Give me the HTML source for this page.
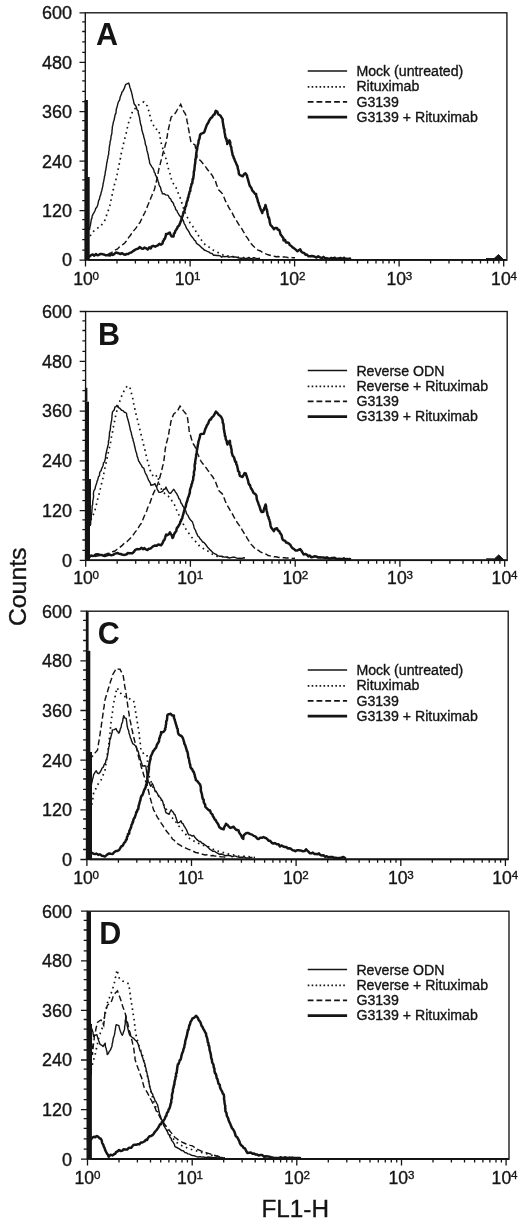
<!DOCTYPE html>
<html lang="en"><head><meta charset="utf-8"><title>Figure</title>
<style>html,body{margin:0;padding:0;background:#fff}svg{display:block}</style>
</head><body>
<svg width="520" height="1224" viewBox="0 0 520 1224" font-family="'Liberation Sans', Arial, Helvetica, sans-serif" fill="#141414" stroke="#141414" stroke-width="0.35">
<rect x="0" y="0" width="520" height="1224" fill="#fff" stroke="none"/>
<g>
<rect x="85.3" y="12.8" width="421.6" height="247.3" fill="none" stroke="#141414" stroke-width="1.35"/>
<path d="M88.3 259.9 H506.9" stroke="#141414" stroke-width="1.9" fill="none"/>
<text x="72" y="266.4" font-size="18" text-anchor="end">0</text>
<text x="72" y="216.9" font-size="18" text-anchor="end">120</text>
<text x="72" y="167.5" font-size="18" text-anchor="end">240</text>
<text x="72" y="118.0" font-size="18" text-anchor="end">360</text>
<text x="72" y="68.6" font-size="18" text-anchor="end">480</text>
<text x="72" y="19.1" font-size="18" text-anchor="end">600</text>
<path d="M79.5 260.1 H85.3 M82.2 250.1 H85.3 M82.2 239.7 H85.3 M82.2 229.3 H85.3 M82.2 219.6 H85.3 M79.5 210.6 H85.3 M82.2 200.6 H85.3 M82.2 190.2 H85.3 M82.2 179.8 H85.3 M82.2 170.1 H85.3 M79.5 161.2 H85.3 M82.2 151.2 H85.3 M82.2 140.8 H85.3 M82.2 130.4 H85.3 M82.2 120.7 H85.3 M79.5 111.7 H85.3 M82.2 101.7 H85.3 M82.2 91.3 H85.3 M82.2 80.9 H85.3 M82.2 71.2 H85.3 M79.5 62.3 H85.3 M82.2 52.3 H85.3 M82.2 41.9 H85.3 M82.2 31.5 H85.3 M82.2 21.8 H85.3 M79.5 12.8 H85.3 M85.5 260.1 V266.5 M117.0 260.1 V263.4 M135.4 260.1 V263.4 M148.4 260.1 V263.4 M158.6 260.1 V263.4 M166.9 260.1 V263.4 M173.9 260.1 V263.4 M179.9 260.1 V263.4 M185.3 260.1 V263.4 M190.1 260.1 V266.5 M221.5 260.1 V263.4 M239.9 260.1 V263.4 M253.0 260.1 V263.4 M263.1 260.1 V263.4 M271.4 260.1 V263.4 M278.4 260.1 V263.4 M284.5 260.1 V263.4 M289.8 260.1 V263.4 M294.6 260.1 V266.5 M326.1 260.1 V263.4 M344.5 260.1 V263.4 M357.5 260.1 V263.4 M367.7 260.1 V263.4 M376.0 260.1 V263.4 M383.0 260.1 V263.4 M389.0 260.1 V263.4 M394.4 260.1 V263.4 M399.1 260.1 V266.5 M430.6 260.1 V263.4 M449.0 260.1 V263.4 M462.1 260.1 V263.4 M472.2 260.1 V263.4 M480.5 260.1 V263.4 M487.5 260.1 V263.4 M493.6 260.1 V263.4 M498.9 260.1 V263.4 M503.7 260.1 V266.5" stroke="#141414" stroke-width="1.3" fill="none"/>
<text x="73.2" y="285.2" font-size="17.6">10<tspan font-size="11.6" dy="-5.0" dx="-0.2">0</tspan></text>
<text x="174.7" y="285.2" font-size="17.6">10<tspan font-size="11.6" dy="-5.0" dx="-0.2">1</tspan></text>
<text x="279.5" y="285.2" font-size="17.6">10<tspan font-size="11.6" dy="-5.0" dx="-0.2">2</tspan></text>
<text x="386.4" y="285.2" font-size="17.6">10<tspan font-size="11.6" dy="-5.0" dx="-0.2">3</tspan></text>
<text x="491.1" y="285.2" font-size="17.6">10<tspan font-size="11.6" dy="-5.0" dx="-0.2">4</tspan></text>
<text x="96.0" y="45.0" font-size="30.5" font-weight="bold" stroke="none">A</text>
<path d="M307.7 71.1 H347.1" stroke="#141414" stroke-width="1.5" fill="none"/>
<path d="M307.7 86.8 H347.1" stroke="#141414" stroke-width="1.7" stroke-dasharray="1.6 2.35" fill="none"/>
<path d="M307.7 101.8 H347.1" stroke="#141414" stroke-width="1.7" stroke-dasharray="5.8 3" fill="none"/>
<path d="M307.7 117.2 H347.1" stroke="#141414" stroke-width="2.7" fill="none"/>
<text x="356.4" y="76.0" font-size="14.15">Mock (untreated)</text>
<text x="356.4" y="91.2" font-size="14.15">Rituximab</text>
<text x="356.4" y="106.5" font-size="14.15">G3139</text>
<text x="356.4" y="121.8" font-size="14.15">G3139 + Rituximab</text>
<path d="M89.5 230.0 L89.7 228.1 L90.0 226.9 L90.4 225.1 L90.8 222.7 L91.1 221.0 L91.3 219.4 L92.0 218.2 L92.1 216.1 L92.7 215.2 L93.3 213.6 L94.0 212.7 L94.9 211.0 L95.7 208.5 L96.8 207.2 L97.5 205.6 L97.9 204.5 L98.2 202.7 L98.7 200.3 L99.3 199.5 L99.8 197.3 L100.1 195.8 L100.8 194.6 L101.2 192.2 L101.7 190.9 L102.0 189.5 L102.3 188.2 L102.9 185.8 L103.1 183.8 L103.5 182.0 L103.7 181.4 L103.9 179.9 L104.3 178.1 L104.5 176.3 L105.0 175.0 L105.2 172.9 L105.5 170.7 L105.9 169.9 L105.9 168.5 L106.4 166.3 L106.6 164.2 L106.8 162.8 L107.3 161.0 L107.4 159.5 L107.9 158.2 L108.0 156.2 L108.4 155.2 L108.7 153.9 L108.7 151.6 L109.2 150.1 L109.1 149.3 L109.4 146.5 L109.7 145.0 L109.9 143.9 L110.2 141.4 L110.5 140.3 L110.8 139.5 L111.0 137.3 L111.1 135.9 L111.6 134.6 L111.9 132.9 L112.0 130.6 L112.3 128.6 L112.3 126.9 L112.7 125.5 L113.0 124.1 L113.4 122.0 L113.9 120.5 L114.4 118.8 L114.5 118.0 L114.9 115.9 L115.2 114.5 L115.9 113.5 L116.1 111.4 L116.3 109.2 L116.7 108.0 L117.0 107.1 L117.7 104.3 L117.9 103.5 L118.4 101.9 L119.4 100.4 L119.8 99.3 L120.2 96.9 L120.9 95.2 L121.5 94.2 L121.8 92.3 L122.7 91.4 L123.5 89.9 L124.4 88.2 L125.1 85.7 L125.8 84.3 L128.7 83.1 L129.4 85.0 L129.9 87.5 L130.6 89.0 L130.9 90.6 L131.3 91.4 L131.7 93.1 L132.3 95.5 L132.6 97.6 L133.1 99.1 L133.4 100.1 L133.9 103.1 L134.6 104.6 L135.6 105.4 L136.4 107.4 L137.1 110.0 L138.2 110.9 L138.2 113.0 L138.5 113.8 L139.2 116.5 L139.5 117.1 L139.8 119.9 L140.1 120.7 L140.2 122.1 L140.8 124.9 L141.3 125.9 L141.6 127.4 L141.7 129.6 L142.1 130.5 L142.5 132.1 L142.9 133.8 L143.5 135.2 L143.8 137.1 L144.4 139.0 L144.8 140.4 L145.1 142.1 L145.3 143.8 L145.7 145.3 L146.4 146.4 L146.6 148.3 L147.0 150.7 L147.4 151.8 L147.9 153.8 L148.2 154.9 L148.4 156.7 L148.9 159.1 L149.4 160.5 L149.6 162.7 L150.0 163.9 L151.0 165.3 L151.9 166.8 L153.0 168.4 L153.9 170.3 L154.3 172.3 L155.2 173.4 L155.5 175.5 L156.2 176.1 L156.8 177.7 L157.6 179.4 L158.2 181.9 L158.7 182.6 L159.0 184.8 L159.9 186.6 L160.5 187.2 L160.8 189.0 L161.5 191.4 L161.9 191.7 L162.4 193.8 L164.1 193.7 L165.6 194.9 L167.5 195.1 L168.4 195.8 L169.5 198.2 L170.7 198.9 L171.7 201.4 L172.4 201.9 L173.5 203.5 L174.0 205.5 L175.2 207.4 L175.7 209.6 L176.8 210.3 L177.6 212.6 L178.3 213.4 L179.5 215.8 L180.7 216.4 L181.6 218.7 L182.6 219.4 L183.5 221.1 L184.1 223.3 L185.2 225.1 L185.7 226.3 L186.6 228.4 L187.4 229.5 L188.4 230.9 L189.4 232.7 L190.4 234.9 L191.4 236.0 L192.3 237.3 L193.3 238.4 L194.5 240.3 L195.5 240.8 L196.3 243.1 L197.5 244.2 L198.9 244.9 L200.0 246.0 L201.5 247.6 L202.6 248.3 L204.2 250.0 L205.8 250.7 L207.3 251.4 L209.1 252.1 L210.4 253.1 L212.1 253.5 L213.6 255.3 L214.9 255.2 L216.6 255.5 L218.3 255.5 L220.2 255.9 L221.7 257.2 L223.5 256.4 L224.9 256.7 L226.7 256.4 L228.6 257.2 L230.4 256.9 L232.0 256.8 L233.9 257.0 L235.5 257.0 L237.4 257.5 L239.1 258.0 L240.8 258.2 L242.5 258.2 L243.9 257.8 L245.4 258.7 L247.2 258.3 L248.9 257.4 L250.4 258.6 L252.1 258.4 L253.6 257.7 L255.3 258.2 L256.9 258.7 L258.6 258.4 L260.0 258.3" stroke="#141414" stroke-width="1.4" fill="none" stroke-linejoin="round"/>
<path d="M90.0 236.0 L91.7 234.1 L93.2 231.8 L95.0 229.8 L97.1 228.4 L99.0 227.4 L101.0 226.1 L102.2 224.0 L103.7 222.2 L105.0 220.0 L105.6 218.0 L106.4 215.9 L107.1 213.3 L107.8 211.6 L108.7 209.4 L109.3 207.1 L110.0 205.0 L110.5 203.0 L110.9 200.7 L111.4 198.2 L111.8 196.4 L112.3 194.1 L112.8 191.6 L113.3 189.8 L113.7 187.6 L114.3 185.4 L114.8 183.2 L115.3 181.3 L116.0 179.2 L116.4 176.5 L117.0 174.8 L117.5 172.5 L118.0 170.1 L118.4 168.0 L118.8 165.7 L119.2 164.0 L119.7 161.8 L120.2 159.6 L120.6 157.0 L120.9 155.0 L121.5 152.5 L122.0 150.6 L122.5 148.2 L123.1 146.1 L123.5 143.8 L123.9 142.1 L124.5 139.9 L125.0 137.7 L125.5 135.3 L126.1 133.5 L126.6 131.0 L127.1 128.8 L127.7 126.5 L128.3 124.5 L128.7 122.3 L129.3 120.6 L130.1 118.6 L130.7 117.0 L131.3 114.9 L131.9 113.2 L132.4 111.1 L134.2 109.4 L136.0 107.7 L137.9 105.5 L139.9 104.0 L141.8 102.9 L143.8 101.9 L145.6 104.3 L147.5 106.1 L148.0 108.0 L148.4 109.8 L149.1 111.8 L149.4 114.0 L150.1 116.2 L150.4 118.0 L150.9 119.8 L151.9 122.1 L153.0 124.2 L154.1 126.6 L155.0 128.9 L158.8 129.9 L159.1 132.0 L159.5 133.9 L159.8 136.5 L160.3 138.3 L160.6 140.6 L161.0 142.4 L161.7 144.5 L162.4 146.9 L162.9 149.0 L163.7 150.6 L164.3 153.2 L164.9 155.1 L165.6 157.1 L166.1 159.5 L166.6 161.7 L167.1 163.3 L167.7 165.7 L168.3 168.1 L168.8 170.1 L169.4 172.1 L170.1 173.9 L170.7 176.1 L171.2 178.4 L171.8 180.2 L172.5 182.6 L173.6 183.9 L174.8 185.8 L176.0 187.4 L176.7 189.6 L177.6 191.4 L178.4 193.8 L179.2 195.7 L180.0 197.3 L180.8 199.9 L181.3 201.7 L182.2 203.9 L182.8 206.0 L183.6 208.3 L184.2 210.2 L185.0 212.4 L185.9 214.6 L187.0 216.7 L187.9 218.5 L189.0 220.8 L190.0 222.7 L191.3 224.2 L192.6 226.1 L193.7 228.1 L195.0 229.8 L196.3 232.2 L197.5 234.0 L198.8 236.2 L199.9 238.3 L201.6 240.2 L203.4 242.7 L205.1 244.6 L207.0 246.2 L209.1 247.1 L210.9 248.9 L213.1 250.1 L215.3 251.2 L217.4 252.3 L219.3 253.1 L221.2 254.3 L223.1 255.0 L225.1 255.4 L227.0 256.0 L229.0 255.8 L231.1 256.3 L233.0 256.5 L234.9 257.2 L237.1 257.0 L238.9 257.4 L240.9 257.0 L243.0 257.7 L245.1 257.6 L247.0 257.5 L249.0 258.0 L251.0 257.7 L253.0 257.8 L255.0 258.0" stroke="#141414" stroke-width="1.7" stroke-dasharray="1.6 3.7" fill="none"/>
<path d="M107.5 255.0 L109.5 253.5 L111.5 252.7 L113.4 251.5 L115.5 249.8 L117.6 249.0 L119.3 247.1 L121.2 245.6 L123.1 244.3 L125.0 242.7 L126.3 241.0 L127.5 239.2 L128.7 237.4 L129.9 236.0 L131.3 234.0 L132.4 232.3 L133.8 230.6 L135.1 229.1 L136.3 227.7 L137.4 225.7 L138.7 223.9 L140.0 222.6 L141.0 220.3 L142.0 218.4 L143.1 216.4 L143.9 214.3 L145.0 212.3 L146.0 210.0 L146.8 208.1 L147.6 205.7 L148.6 203.5 L149.3 201.7 L150.3 199.5 L151.0 197.5 L151.8 195.7 L152.5 193.8 L153.5 191.5 L154.3 189.7 L155.0 187.2 L155.4 185.1 L156.0 183.4 L156.4 181.2 L156.9 179.0 L157.4 176.4 L157.7 174.6 L158.3 172.2 L158.7 169.8 L159.2 167.6 L159.8 165.6 L160.3 163.7 L160.9 161.1 L161.4 159.4 L161.9 157.0 L162.5 155.2 L163.0 152.7 L163.7 150.8 L164.2 148.8 L164.9 146.5 L165.4 144.5 L166.1 142.4 L166.4 140.2 L166.8 138.1 L167.3 136.3 L167.5 133.8 L167.9 131.9 L168.4 129.3 L168.8 127.5 L169.3 125.4 L169.6 123.5 L170.1 121.2 L170.6 119.6 L171.0 117.3 L173.0 115.5 L175.0 113.5 L176.3 111.7 L177.5 109.3 L178.8 107.7 L180.7 104.3 L181.8 106.9 L182.7 108.8 L183.7 111.3 L184.9 113.2 L185.9 115.2 L186.3 117.3 L186.8 119.2 L187.1 121.6 L187.6 123.4 L187.9 125.7 L188.3 127.6 L188.8 130.1 L189.1 131.8 L189.4 134.3 L189.8 136.5 L190.3 138.4 L190.6 140.5 L191.0 142.5 L193.0 143.7 L195.0 145.0 L195.4 147.0 L195.8 149.6 L196.3 152.0 L196.6 154.1 L197.0 156.4 L197.5 158.5 L199.2 159.6 L200.9 161.0 L202.3 162.7 L203.7 164.5 L204.9 166.0 L206.2 167.6 L207.4 169.5 L208.8 171.1 L210.1 172.6 L211.3 174.2 L212.6 176.2 L213.7 178.4 L215.1 180.2 L215.7 181.7 L216.4 184.2 L217.2 186.2 L217.9 188.2 L218.8 190.0 L220.6 191.7 L222.5 193.8 L223.3 195.7 L224.3 197.9 L225.2 200.4 L226.1 202.3 L227.3 204.4 L228.5 206.8 L229.8 209.1 L231.1 211.0 L232.1 212.6 L233.0 214.7 L234.0 216.6 L235.0 218.5 L236.0 219.9 L237.2 221.8 L238.4 223.9 L239.7 225.8 L241.1 227.6 L242.3 229.7 L243.4 231.6 L244.7 233.6 L246.0 236.1 L247.3 237.9 L248.5 239.7 L249.7 241.9 L251.0 243.5 L252.6 245.2 L254.3 246.9 L255.9 248.8 L258.2 250.1 L260.4 251.0 L262.4 252.3 L264.4 253.0 L266.3 254.2 L268.1 254.7 L270.0 255.2 L272.0 255.8 L274.0 256.2 L276.0 256.7 L278.1 256.5 L280.0 256.7 L282.1 257.1 L284.3 257.0 L286.4 257.1 L288.5 257.7 L290.7 257.4 L292.9 257.7 L295.0 257.8" stroke="#141414" stroke-width="1.45" stroke-dasharray="6 3" fill="none"/>
<path d="M88.0 256.0 L89.4 256.4 L91.0 255.2 L92.8 254.5 L94.3 255.7 L95.9 254.0 L97.2 255.2 L98.7 255.0 L100.1 254.1 L101.7 254.1 L103.7 254.4 L105.4 255.2 L106.7 255.3 L108.4 255.0 L110.0 255.5 L111.6 254.1 L112.8 254.9 L114.2 254.2 L115.8 252.5 L117.8 253.0 L118.9 253.4 L120.4 254.0 L122.2 253.2 L123.6 254.3 L125.3 254.8 L126.7 253.9 L128.2 253.9 L129.6 252.9 L130.9 252.6 L132.6 251.5 L134.2 250.4 L135.2 249.7 L137.2 248.9 L138.3 248.5 L139.7 247.1 L141.6 248.5 L143.1 248.7 L144.6 247.6 L146.2 248.3 L147.7 249.4 L149.2 247.4 L150.8 248.4 L151.8 246.4 L153.2 245.8 L155.2 246.7 L156.7 245.8 L157.9 245.3 L159.3 243.9 L160.8 244.7 L162.5 243.4 L162.9 241.4 L163.8 240.4 L164.1 239.1 L164.8 238.8 L165.5 237.1 L166.0 234.1 L167.5 234.0 L168.8 233.0 L169.8 232.6 L170.6 234.9 L171.5 236.4 L172.3 236.6 L173.5 236.5 L173.9 233.6 L174.8 233.0 L175.3 230.9 L176.2 229.7 L177.3 228.0 L177.8 226.5 L179.0 225.7 L180.1 223.0 L180.7 221.3 L181.2 220.9 L181.5 219.2 L182.1 217.1 L182.4 216.5 L182.9 214.8 L183.6 211.9 L184.2 211.7 L184.9 209.1 L185.1 207.3 L185.8 206.3 L186.2 205.2 L186.5 202.8 L187.2 200.9 L187.6 200.3 L187.9 197.8 L188.4 197.4 L188.8 194.6 L189.1 194.5 L189.6 191.6 L190.3 191.0 L190.4 188.4 L190.9 187.0 L191.2 186.0 L191.5 184.0 L192.2 183.7 L192.6 180.5 L192.7 178.9 L193.2 179.0 L193.4 177.0 L193.8 174.4 L193.8 172.7 L193.8 171.7 L194.4 170.2 L194.4 169.2 L194.6 167.6 L194.8 165.1 L195.1 164.0 L195.1 163.5 L195.4 161.3 L195.3 159.5 L195.9 158.5 L195.9 157.1 L196.1 155.7 L196.2 153.8 L196.6 151.6 L196.8 149.7 L197.2 149.5 L197.2 147.7 L197.6 145.9 L197.9 144.7 L198.4 143.3 L198.6 140.9 L198.7 140.5 L199.6 138.2 L199.9 135.6 L200.6 134.1 L201.0 133.8 L203.8 132.7 L204.4 131.8 L205.0 130.0 L205.4 128.9 L206.3 126.3 L206.9 124.6 L207.7 123.7 L208.7 121.9 L208.9 121.0 L209.9 119.6 L210.9 117.8 L212.0 117.3 L212.7 116.0 L213.9 114.5 L214.5 114.5 L215.4 111.8 L215.8 110.8 L217.2 111.5 L218.1 114.1 L219.0 114.7 L220.3 115.5 L221.3 117.1 L222.7 119.4 L222.6 120.3 L222.8 122.1 L223.2 124.3 L223.4 125.9 L223.6 126.6 L223.8 128.4 L224.4 129.2 L224.4 131.3 L224.7 133.0 L225.1 134.9 L225.3 136.8 L226.0 138.7 L226.4 138.5 L226.8 141.6 L227.3 141.6 L227.2 144.0 L228.8 140.9 L229.4 140.3 L229.6 140.7 L230.3 142.5 L230.2 144.2 L230.9 146.8 L231.2 146.9 L231.5 149.2 L231.8 150.8 L232.1 152.5 L232.3 152.9 L232.6 155.1 L233.4 156.4 L233.8 158.1 L234.4 159.0 L235.0 161.0 L235.8 162.4 L236.4 164.0 L237.1 165.6 L237.5 166.1 L237.8 168.4 L238.4 170.3 L238.6 171.3 L238.9 173.9 L239.6 174.8 L240.1 175.1 L242.7 176.3 L243.9 174.5 L244.7 173.7 L245.5 173.3 L246.3 174.6 L247.0 175.5 L247.2 177.2 L247.9 179.2 L248.2 180.3 L248.8 182.4 L249.3 184.5 L249.9 186.0 L250.5 186.8 L251.5 188.2 L252.0 189.9 L252.4 190.7 L253.7 192.0 L255.0 193.9 L256.1 194.1 L256.5 197.3 L256.9 197.3 L257.3 198.7 L258.1 202.1 L258.7 203.1 L259.1 205.2 L259.6 206.2 L260.1 207.9 L260.7 209.5 L261.6 211.2 L262.3 213.0 L262.8 210.4 L263.9 210.0 L264.2 208.3 L265.1 207.1 L265.4 205.1 L265.9 206.3 L266.3 208.0 L267.0 210.3 L267.2 210.8 L267.4 212.5 L268.0 215.6 L268.4 217.4 L268.8 217.2 L269.5 219.9 L269.7 222.2 L269.9 222.7 L270.4 224.7 L270.7 225.3 L272.0 226.4 L273.1 227.9 L274.0 229.2 L275.1 228.0 L276.9 227.9 L277.8 229.6 L279.2 230.0 L280.2 232.9 L280.5 234.4 L281.6 235.7 L282.5 236.9 L283.3 238.0 L283.5 240.4 L285.1 240.0 L286.0 242.5 L287.6 242.5 L289.0 243.1 L289.7 245.0 L291.3 246.0 L292.6 247.4 L293.9 248.1 L295.7 249.6 L297.5 251.2 L300.2 249.3 L301.4 251.8 L302.4 252.5 L304.0 252.9 L305.5 254.7 L306.9 254.6 L308.6 256.3 L309.9 256.2 L311.9 256.1 L313.4 256.3 L315.2 256.9 L316.5 257.6 L318.2 256.3 L320.0 257.4 L321.9 258.2 L323.5 256.9 L325.2 258.4 L326.5 258.1 L328.5 258.8 L330.2 258.6 L331.3 257.9 L333.2 258.4 L334.8 257.7 L336.0 258.9 L337.8 258.6 L339.1 258.3 L340.9 257.9 L342.3 258.9 L344.0 257.7 L345.2 258.9 L347.1 258.7 L348.5 258.9 L350.0 258.6" stroke="#141414" stroke-width="2.5" fill="none" stroke-linejoin="round" stroke-linecap="round"/>
<rect x="84.6" y="100.0" width="3.3" height="77.0" stroke="none"/>
<rect x="84.6" y="177.0" width="5.1" height="83.1" stroke="none"/>
<path d="M486.0 258.6 H494.0 L498.5 254.5 L503.6 259.5 Z" stroke="#141414" stroke-width="0.9" fill="#141414" stroke-linejoin="round"/>
</g>
<g>
<rect x="85.6" y="311.5" width="421.6" height="248.9" fill="none" stroke="#141414" stroke-width="1.35"/>
<path d="M88.6 560.1 H507.2" stroke="#141414" stroke-width="1.9" fill="none"/>
<text x="72" y="566.7" font-size="18" text-anchor="end">0</text>
<text x="72" y="516.9" font-size="18" text-anchor="end">120</text>
<text x="72" y="467.1" font-size="18" text-anchor="end">240</text>
<text x="72" y="417.4" font-size="18" text-anchor="end">360</text>
<text x="72" y="367.6" font-size="18" text-anchor="end">480</text>
<text x="72" y="317.8" font-size="18" text-anchor="end">600</text>
<path d="M79.7 560.4 H85.6 M82.4 550.4 H85.6 M82.4 540.0 H85.6 M82.4 529.6 H85.6 M82.4 519.9 H85.6 M79.7 510.6 H85.6 M82.4 500.6 H85.6 M82.4 490.2 H85.6 M82.4 479.8 H85.6 M82.4 470.1 H85.6 M79.7 460.8 H85.6 M82.4 450.8 H85.6 M82.4 440.4 H85.6 M82.4 430.0 H85.6 M82.4 420.3 H85.6 M79.7 411.1 H85.6 M82.4 401.1 H85.6 M82.4 390.7 H85.6 M82.4 380.3 H85.6 M82.4 370.6 H85.6 M79.7 361.3 H85.6 M82.4 351.3 H85.6 M82.4 340.9 H85.6 M82.4 330.5 H85.6 M82.4 320.8 H85.6 M79.7 311.5 H85.6 M85.7 560.4 V566.8 M117.2 560.4 V563.7 M135.7 560.4 V563.7 M148.8 560.4 V563.7 M158.9 560.4 V563.7 M167.2 560.4 V563.7 M174.2 560.4 V563.7 M180.3 560.4 V563.7 M185.7 560.4 V563.7 M190.4 560.4 V566.8 M222.0 560.4 V563.7 M240.4 560.4 V563.7 M253.5 560.4 V563.7 M263.7 560.4 V563.7 M272.0 560.4 V563.7 M279.0 560.4 V563.7 M285.0 560.4 V563.7 M290.4 560.4 V563.7 M295.2 560.4 V566.8 M326.7 560.4 V563.7 M345.2 560.4 V563.7 M358.3 560.4 V563.7 M368.4 560.4 V563.7 M376.7 560.4 V563.7 M383.7 560.4 V563.7 M389.8 560.4 V563.7 M395.2 560.4 V563.7 M399.9 560.4 V566.8 M431.5 560.4 V563.7 M449.9 560.4 V563.7 M463.0 560.4 V563.7 M473.2 560.4 V563.7 M481.5 560.4 V563.7 M488.5 560.4 V563.7 M494.5 560.4 V563.7 M499.9 560.4 V563.7 M504.7 560.4 V566.8" stroke="#141414" stroke-width="1.3" fill="none"/>
<text x="73.2" y="583.9" font-size="17.6">10<tspan font-size="11.6" dy="-5.0" dx="-0.2">0</tspan></text>
<text x="177.3" y="583.9" font-size="17.6">10<tspan font-size="11.6" dy="-5.0" dx="-0.2">1</tspan></text>
<text x="282.4" y="583.9" font-size="17.6">10<tspan font-size="11.6" dy="-5.0" dx="-0.2">2</tspan></text>
<text x="387.1" y="583.9" font-size="17.6">10<tspan font-size="11.6" dy="-5.0" dx="-0.2">3</tspan></text>
<text x="491.6" y="583.9" font-size="17.6">10<tspan font-size="11.6" dy="-5.0" dx="-0.2">4</tspan></text>
<text x="97.9" y="344.6" font-size="30.5" font-weight="bold" stroke="none">B</text>
<path d="M307.7 370.6 H347.1" stroke="#141414" stroke-width="1.5" fill="none"/>
<path d="M307.7 386.3 H347.1" stroke="#141414" stroke-width="1.7" stroke-dasharray="1.6 2.35" fill="none"/>
<path d="M307.7 401.3 H347.1" stroke="#141414" stroke-width="1.7" stroke-dasharray="5.8 3" fill="none"/>
<path d="M307.7 416.7 H347.1" stroke="#141414" stroke-width="2.7" fill="none"/>
<text x="356.4" y="375.5" font-size="14.15">Reverse ODN</text>
<text x="356.4" y="390.7" font-size="14.15">Reverse + Rituximab</text>
<text x="356.4" y="406.0" font-size="14.15">G3139</text>
<text x="356.4" y="421.2" font-size="14.15">G3139 + Rituximab</text>
<path d="M90.5 525.0 L90.7 523.3 L90.7 521.2 L91.1 519.6 L91.2 518.1 L91.3 516.5 L91.3 514.5 L91.6 514.0 L91.9 511.1 L91.9 510.4 L92.1 508.4 L92.1 506.5 L92.7 504.1 L92.7 503.5 L92.8 501.3 L93.0 499.9 L93.3 498.4 L93.6 496.4 L93.4 493.9 L93.6 492.1 L94.0 490.4 L94.8 489.5 L95.3 487.8 L95.4 486.8 L96.1 484.8 L96.8 482.6 L97.1 481.2 L97.7 480.2 L98.0 478.6 L98.5 476.6 L99.5 475.7 L99.6 472.9 L100.4 471.3 L101.2 470.6 L101.5 468.8 L102.4 467.1 L103.2 465.2 L103.5 462.7 L104.5 462.0 L104.9 460.2 L105.4 458.5 L105.6 456.1 L105.8 454.7 L106.2 453.3 L106.5 451.3 L106.8 450.2 L107.2 448.6 L107.8 446.0 L108.2 444.6 L108.4 443.9 L108.4 441.3 L108.9 439.7 L109.0 439.1 L109.1 437.0 L109.4 435.9 L109.4 434.0 L109.6 431.9 L110.1 431.0 L110.4 428.6 L110.5 427.2 L110.6 425.4 L110.9 424.6 L111.2 422.0 L111.6 420.6 L111.8 418.6 L112.0 416.9 L111.9 416.1 L112.2 414.1 L112.4 412.2 L113.5 410.6 L114.3 409.9 L114.9 406.9 L115.8 406.8 L116.9 405.3 L117.8 406.9 L118.9 407.9 L119.8 408.2 L121.5 410.3 L123.0 410.6 L124.4 412.3 L125.8 412.6 L126.6 413.7 L126.8 416.1 L127.2 416.9 L127.8 419.3 L128.2 420.5 L128.8 422.7 L129.2 424.6 L129.4 425.4 L130.0 427.8 L130.2 429.5 L130.8 431.3 L131.4 433.0 L131.5 434.2 L132.1 436.4 L132.4 438.0 L133.0 438.7 L133.1 440.6 L133.7 442.3 L134.1 443.5 L134.5 445.8 L134.9 447.0 L135.4 449.6 L135.7 450.6 L136.1 452.3 L136.7 453.5 L137.1 456.3 L137.7 457.3 L138.1 459.0 L138.7 461.2 L139.3 461.7 L140.1 463.4 L141.1 464.8 L142.4 467.4 L143.8 468.1 L144.5 470.6 L145.1 472.5 L146.1 474.5 L146.6 475.1 L147.5 477.5 L148.0 478.7 L148.7 480.4 L149.8 482.1 L150.3 483.0 L150.9 485.3 L153.2 484.8 L155.0 483.6 L155.8 486.0 L156.7 487.1 L157.2 489.4 L157.9 490.4 L159.0 492.4 L160.8 492.2 L162.6 491.4 L163.7 489.2 L165.0 489.3 L166.0 487.1 L166.8 489.2 L167.6 490.7 L168.6 492.1 L169.3 493.1 L170.7 493.2 L171.7 491.9 L172.8 490.4 L173.6 489.3 L174.6 490.5 L175.5 492.1 L176.7 493.5 L177.4 495.2 L178.2 496.5 L178.8 498.6 L179.7 499.2 L180.3 500.5 L181.0 503.1 L181.8 503.7 L182.5 505.5 L183.2 506.5 L184.2 508.2 L184.9 509.7 L185.8 510.9 L186.5 513.5 L187.3 514.6 L188.1 515.6 L188.8 517.4 L190.0 519.3 L191.1 520.6 L192.5 522.1 L193.1 524.0 L193.6 525.1 L194.1 528.0 L194.8 529.2 L195.6 530.5 L196.1 532.2 L196.8 533.6 L198.0 536.3 L199.0 536.8 L200.1 538.9 L201.1 539.7 L202.6 542.1 L203.7 542.3 L205.1 543.8 L206.4 545.5 L207.5 547.2 L208.9 548.5 L210.0 549.9 L211.3 550.9 L212.3 552.1 L213.5 553.0 L215.0 553.9 L216.4 554.5 L217.5 555.6 L219.3 556.2 L220.8 556.3 L222.5 556.4 L224.1 557.1 L225.9 557.0 L227.4 557.3 L229.4 558.0 L231.0 557.6 L232.7 557.2 L234.5 557.2 L236.1 557.9 L237.9 558.4 L239.9 558.3 L241.4 558.5 L243.4 557.8 L245.0 558.0" stroke="#141414" stroke-width="1.4" fill="none" stroke-linejoin="round"/>
<path d="M91.0 520.0 L91.7 517.7 L92.6 516.0 L93.4 514.3 L94.3 512.0 L95.0 510.0 L95.5 508.0 L96.1 505.6 L96.7 503.5 L97.1 501.5 L97.7 499.0 L98.2 497.1 L98.8 495.0 L99.3 493.1 L99.8 490.7 L100.3 488.9 L100.9 486.4 L101.4 484.1 L102.0 482.4 L102.4 480.0 L103.0 478.0 L103.5 475.8 L103.8 473.7 L104.2 471.0 L104.7 469.1 L105.1 466.7 L105.6 464.8 L106.1 462.4 L106.4 460.4 L107.1 458.1 L107.5 455.8 L108.0 453.5 L108.5 451.8 L108.9 449.5 L109.5 447.2 L110.0 444.9 L110.5 443.0 L110.7 441.0 L111.1 438.8 L111.4 437.2 L111.8 434.8 L112.3 433.0 L112.7 431.1 L112.9 428.7 L113.3 427.2 L113.7 425.1 L114.2 422.6 L114.8 420.4 L115.1 418.5 L115.6 416.2 L116.2 413.8 L116.6 411.9 L117.1 409.7 L117.4 407.3 L118.3 405.8 L119.0 403.4 L119.6 401.7 L120.4 399.6 L121.1 397.5 L122.0 395.2 L122.9 393.3 L124.1 390.8 L125.1 388.7 L127.4 385.8 L129.9 387.4 L130.5 389.8 L130.9 391.5 L131.5 393.5 L131.9 395.4 L132.6 397.3 L132.9 399.6 L133.3 401.6 L133.7 403.8 L134.2 406.2 L134.7 408.0 L135.0 410.1 L135.4 412.7 L136.1 414.5 L136.5 416.8 L137.2 418.7 L137.7 420.8 L138.3 422.7 L138.7 425.0 L139.2 427.1 L139.8 429.4 L140.4 431.7 L140.8 433.5 L141.4 435.8 L141.9 438.1 L142.5 440.0 L143.0 442.0 L143.5 444.2 L144.0 446.5 L144.4 448.5 L145.1 450.5 L145.5 452.7 L146.0 454.8 L146.6 457.1 L147.1 459.2 L147.7 461.3 L148.3 463.3 L148.8 465.6 L149.5 468.1 L150.1 470.2 L150.9 471.7 L151.9 473.5 L152.8 475.7 L153.8 477.4 L155.6 476.4 L157.5 475.2 L157.9 477.2 L158.4 478.9 L158.8 481.4 L159.1 483.1 L159.5 485.2 L160.0 487.4 L161.2 488.8 L162.4 490.7 L163.8 492.4 L165.0 493.9 L166.7 495.0 L168.2 496.2 L170.0 497.7 L171.2 499.5 L172.5 502.0 L173.7 503.6 L175.1 505.8 L175.9 507.7 L176.6 510.0 L177.5 511.9 L178.4 513.8 L179.1 515.5 L180.0 517.8 L181.0 519.8 L182.1 521.6 L183.0 523.6 L184.0 525.2 L185.0 527.5 L186.2 529.6 L187.4 531.4 L188.8 533.2 L190.0 534.9 L191.7 537.3 L193.3 539.0 L195.0 540.7 L196.6 542.8 L198.3 544.6 L200.0 546.6 L201.8 547.5 L203.7 548.8 L205.6 550.1 L207.6 550.9 L209.4 552.0 L211.3 553.4 L213.2 554.8 L215.0 555.8 L217.1 556.3 L219.3 556.7 L221.4 556.5 L223.5 556.9 L225.7 557.0 L227.9 557.4 L230.0 557.8" stroke="#141414" stroke-width="1.7" stroke-dasharray="1.6 3.7" fill="none"/>
<path d="M95.0 556.5 L97.0 556.0 L99.2 555.5 L101.2 555.0 L103.2 554.4 L105.5 554.5 L107.5 553.5 L110.0 553.1 L112.5 551.7 L114.9 551.0 L116.8 549.5 L118.8 548.3 L120.7 546.6 L122.5 545.1 L124.0 543.6 L125.7 542.2 L127.2 541.5 L128.8 539.8 L130.4 538.3 L131.9 536.1 L133.5 534.6 L134.9 532.4 L136.2 530.9 L137.4 528.9 L138.7 527.2 L139.7 525.3 L141.0 523.8 L141.9 522.1 L142.7 520.2 L143.5 518.1 L144.3 516.0 L145.1 514.4 L145.9 512.6 L146.9 510.5 L147.5 508.3 L148.3 506.5 L149.1 504.6 L150.1 502.7 L150.7 500.7 L151.5 498.4 L152.2 496.5 L153.0 494.4 L153.8 492.6 L154.6 490.9 L155.6 488.6 L156.5 486.9 L157.4 484.8 L158.1 482.9 L158.8 481.3 L159.4 479.2 L159.9 477.3 L160.4 475.2 L161.1 472.9 L161.6 470.5 L162.1 468.8 L162.6 466.4 L163.3 464.1 L163.7 461.7 L164.0 460.0 L164.3 457.6 L164.5 455.7 L164.8 453.7 L165.0 451.7 L165.2 449.3 L165.5 447.7 L166.1 445.0 L166.5 442.9 L167.1 440.8 L167.7 438.5 L168.2 436.1 L168.8 433.8 L169.0 431.9 L169.4 429.6 L169.9 427.5 L170.3 425.4 L170.6 423.3 L171.0 421.3 L172.0 418.3 L172.8 416.1 L173.8 414.0 L175.6 412.5 L177.4 411.2 L178.7 408.6 L180.0 406.2 L181.8 408.6 L183.7 411.1 L185.4 413.2 L187.0 415.2 L187.4 417.4 L187.7 419.2 L188.0 421.5 L188.3 423.9 L188.5 425.7 L189.0 428.3 L189.1 430.4 L189.4 432.6 L190.2 434.5 L190.8 436.3 L191.3 438.6 L191.9 440.3 L192.5 442.7 L193.7 444.5 L195.1 446.8 L195.9 449.1 L196.9 451.4 L197.7 453.7 L198.8 456.2 L199.7 458.1 L200.5 460.3 L201.4 461.9 L203.3 464.3 L204.9 466.7 L206.3 467.9 L207.5 469.9 L208.7 471.4 L210.0 473.2 L211.3 475.1 L212.5 476.5 L213.8 478.5 L214.9 480.6 L215.7 482.3 L216.5 484.5 L217.2 486.4 L218.0 488.2 L218.7 490.4 L220.7 492.4 L222.4 494.0 L223.3 496.5 L224.3 498.5 L225.1 500.7 L226.1 503.0 L227.2 505.4 L228.5 507.3 L229.8 509.6 L231.0 511.6 L232.0 513.2 L233.1 515.3 L234.0 517.2 L235.0 518.6 L236.0 520.6 L237.2 522.5 L238.5 524.3 L239.7 525.9 L241.1 527.9 L242.2 530.1 L243.5 532.1 L244.7 534.3 L246.1 536.2 L247.2 538.4 L248.5 540.4 L249.7 542.1 L251.0 544.1 L252.7 546.1 L254.3 547.8 L256.0 549.5 L258.1 550.2 L260.4 551.8 L262.5 552.9 L264.4 553.7 L266.2 554.2 L268.1 555.5 L269.9 555.9 L272.0 556.1 L273.9 556.7 L275.9 556.8 L278.1 557.3 L279.9 557.6 L282.2 557.8 L284.2 557.8 L286.5 558.0 L288.5 557.9 L290.7 557.9 L292.9 558.4 L295.0 558.3" stroke="#141414" stroke-width="1.45" stroke-dasharray="6 3" fill="none"/>
<path d="M88.0 556.3 L89.4 556.9 L91.2 555.5 L92.6 555.9 L94.1 555.8 L95.6 554.4 L97.3 554.2 L98.7 554.5 L100.2 555.1 L101.7 554.9 L103.6 555.8 L104.9 556.0 L106.9 555.4 L108.2 554.9 L109.8 554.6 L111.3 555.3 L113.0 554.9 L114.6 553.9 L116.1 553.4 L117.4 553.0 L118.9 553.7 L120.7 554.0 L121.9 554.5 L123.8 554.9 L124.9 554.7 L126.8 554.3 L127.7 553.1 L129.6 553.3 L130.9 553.3 L132.3 553.2 L133.8 552.0 L135.3 549.8 L137.0 549.1 L138.3 549.2 L139.9 549.1 L141.3 547.8 L143.2 549.1 L144.2 548.1 L145.9 549.4 L147.5 550.0 L148.9 548.8 L150.5 548.5 L152.2 547.1 L153.6 546.1 L155.1 545.5 L156.7 545.7 L158.0 544.6 L159.7 544.8 L161.1 545.3 L162.4 543.5 L163.0 542.1 L163.5 540.6 L164.3 540.2 L165.1 537.8 L165.5 536.2 L166.2 534.6 L167.2 535.2 L168.9 534.1 L169.9 532.4 L171.1 534.4 L171.8 535.5 L172.5 538.0 L173.4 536.5 L174.1 534.2 L174.8 533.0 L175.1 532.5 L176.3 531.0 L176.7 528.4 L178.3 526.4 L179.2 524.7 L180.1 523.4 L180.3 521.7 L180.8 521.2 L181.8 518.9 L182.4 518.0 L182.4 516.9 L183.4 513.9 L183.5 513.2 L184.1 511.2 L184.5 509.5 L185.4 507.2 L185.8 506.2 L186.1 504.3 L186.5 502.7 L187.1 501.3 L187.6 499.6 L187.7 498.7 L188.4 496.9 L188.7 496.4 L189.5 493.5 L189.8 493.2 L189.9 490.5 L190.3 488.9 L191.0 486.9 L191.4 486.1 L191.4 484.4 L192.1 483.5 L192.4 481.6 L193.0 480.3 L193.2 479.1 L193.3 476.7 L194.0 475.1 L193.9 473.5 L193.9 472.1 L194.0 471.6 L194.7 469.4 L194.7 467.1 L194.6 465.8 L194.7 464.0 L195.3 463.6 L195.1 462.2 L195.4 460.3 L195.7 458.7 L196.1 456.5 L196.1 454.4 L196.3 454.5 L196.8 452.5 L196.9 450.3 L197.0 449.8 L197.3 448.2 L197.7 446.3 L197.8 445.1 L198.2 443.5 L198.5 441.3 L199.0 439.9 L199.4 438.5 L199.9 436.8 L200.2 434.5 L201.0 434.1 L203.8 433.8 L204.2 432.6 L205.1 429.7 L205.5 428.5 L206.2 427.4 L206.5 426.2 L207.8 424.0 L208.2 423.5 L209.1 420.9 L209.9 419.5 L210.9 419.6 L211.6 417.7 L213.1 416.4 L213.7 415.7 L214.7 413.9 L215.1 413.1 L215.9 411.6 L216.9 412.6 L217.9 413.6 L218.7 414.8 L220.0 415.7 L221.1 416.8 L222.4 419.5 L222.6 420.3 L222.8 422.9 L223.5 424.2 L223.5 425.0 L223.8 427.7 L223.7 428.6 L224.2 430.3 L224.4 432.5 L224.8 433.5 L224.9 435.9 L225.5 436.5 L225.7 439.0 L226.4 440.6 L226.8 440.9 L226.8 442.3 L227.4 444.5 L228.5 442.2 L229.6 441.1 L229.9 440.9 L230.1 443.2 L230.4 445.4 L230.9 446.2 L231.0 447.7 L231.5 449.3 L231.7 451.1 L231.6 452.1 L232.2 454.1 L232.7 455.8 L233.0 456.1 L234.1 457.5 L234.4 459.0 L235.3 461.8 L236.1 462.0 L236.4 464.7 L237.0 465.0 L237.4 467.1 L238.0 469.7 L238.0 471.0 L238.7 471.5 L239.4 472.4 L239.4 474.4 L239.9 475.9 L242.5 477.0 L243.5 475.2 L244.6 473.1 L245.9 473.5 L246.1 475.1 L246.5 475.6 L247.2 477.9 L247.7 479.4 L248.2 481.3 L248.6 483.4 L249.4 485.0 L249.9 484.8 L250.6 487.1 L251.1 488.6 L252.0 489.5 L252.6 490.9 L253.7 493.2 L255.1 493.9 L256.2 495.2 L256.5 496.0 L256.7 498.7 L257.3 500.7 L257.8 501.7 L258.5 503.9 L259.0 505.2 L259.6 506.6 L259.8 507.4 L260.6 510.1 L261.5 511.9 L262.3 512.0 L263.4 511.8 L263.8 509.6 L264.5 507.8 L264.7 507.2 L265.6 504.5 L266.1 506.1 L266.2 508.2 L266.6 510.5 L267.0 512.1 L267.5 514.4 L267.8 515.9 L268.7 517.4 L268.6 518.2 L269.4 519.8 L269.7 521.1 L270.1 522.4 L270.5 525.2 L270.8 526.6 L271.7 528.3 L273.1 529.8 L273.8 531.1 L275.3 528.7 L277.0 528.3 L277.8 530.3 L279.2 531.1 L280.0 533.0 L280.5 533.5 L281.7 535.4 L282.1 538.0 L282.7 539.6 L284.0 540.5 L285.3 540.9 L286.0 542.5 L287.5 542.8 L288.9 543.6 L290.2 544.7 L291.0 546.2 L292.3 547.9 L293.9 549.1 L295.6 550.4 L297.5 550.4 L300.1 549.0 L301.3 550.5 L302.4 552.4 L303.6 554.4 L305.6 554.0 L307.1 554.9 L308.4 556.4 L309.8 555.6 L311.4 557.3 L313.4 556.8 L315.0 556.3 L316.7 556.7 L318.3 557.6 L319.9 557.2 L321.5 557.4 L323.5 557.5 L325.2 558.2 L326.9 557.3 L328.5 558.4 L330.1 558.6 L331.7 558.0 L332.9 557.9 L334.6 557.7 L336.0 558.7 L337.5 559.2 L339.1 558.8 L340.9 558.9 L342.1 559.1 L343.9 558.3 L345.1 559.2 L347.0 559.1 L348.4 559.2 L350.0 558.9" stroke="#141414" stroke-width="2.5" fill="none" stroke-linejoin="round" stroke-linecap="round"/>
<rect x="84.9" y="387.8" width="2.5" height="13.9" stroke="none"/>
<rect x="84.9" y="401.7" width="4.1" height="77.3" stroke="none"/>
<rect x="84.9" y="479.0" width="6.1" height="47.0" stroke="none"/>
<rect x="84.9" y="526.0" width="5.1" height="34.0" stroke="none"/>
<path d="M486.3 558.9 H494.3 L498.8 554.8 L503.9 559.8 Z" stroke="#141414" stroke-width="0.9" fill="#141414" stroke-linejoin="round"/>
</g>
<g>
<rect x="86.6" y="611.2" width="421.6" height="248.3" fill="none" stroke="#141414" stroke-width="1.35"/>
<path d="M89.6 859.2 H508.2" stroke="#141414" stroke-width="1.9" fill="none"/>
<text x="72" y="865.8" font-size="18" text-anchor="end">0</text>
<text x="72" y="816.1" font-size="18" text-anchor="end">120</text>
<text x="72" y="766.5" font-size="18" text-anchor="end">240</text>
<text x="72" y="716.8" font-size="18" text-anchor="end">360</text>
<text x="72" y="667.2" font-size="18" text-anchor="end">480</text>
<text x="72" y="617.5" font-size="18" text-anchor="end">600</text>
<path d="M80.4 859.5 H86.6 M83.1 849.5 H86.6 M83.1 839.1 H86.6 M83.1 828.7 H86.6 M83.1 819.0 H86.6 M80.4 809.8 H86.6 M83.1 799.8 H86.6 M83.1 789.4 H86.6 M83.1 779.0 H86.6 M83.1 769.3 H86.6 M80.4 760.2 H86.6 M83.1 750.2 H86.6 M83.1 739.8 H86.6 M83.1 729.4 H86.6 M83.1 719.7 H86.6 M80.4 710.5 H86.6 M83.1 700.5 H86.6 M83.1 690.1 H86.6 M83.1 679.7 H86.6 M83.1 670.0 H86.6 M80.4 660.9 H86.6 M83.1 650.9 H86.6 M83.1 640.5 H86.6 M83.1 630.1 H86.6 M83.1 620.4 H86.6 M80.4 611.2 H86.6 M86.9 859.5 V865.9 M118.4 859.5 V862.8 M136.8 859.5 V862.8 M149.9 859.5 V862.8 M160.0 859.5 V862.8 M168.3 859.5 V862.8 M175.3 859.5 V862.8 M181.4 859.5 V862.8 M186.7 859.5 V862.8 M191.5 859.5 V865.9 M223.0 859.5 V862.8 M241.4 859.5 V862.8 M254.5 859.5 V862.8 M264.6 859.5 V862.8 M272.9 859.5 V862.8 M279.9 859.5 V862.8 M286.0 859.5 V862.8 M291.4 859.5 V862.8 M296.1 859.5 V865.9 M327.6 859.5 V862.8 M346.1 859.5 V862.8 M359.1 859.5 V862.8 M369.3 859.5 V862.8 M377.6 859.5 V862.8 M384.6 859.5 V862.8 M390.6 859.5 V862.8 M396.0 859.5 V862.8 M400.8 859.5 V865.9 M432.3 859.5 V862.8 M450.7 859.5 V862.8 M463.7 859.5 V862.8 M473.9 859.5 V862.8 M482.2 859.5 V862.8 M489.2 859.5 V862.8 M495.2 859.5 V862.8 M500.6 859.5 V862.8 M505.4 859.5 V865.9" stroke="#141414" stroke-width="1.3" fill="none"/>
<text x="73.2" y="883.8" font-size="17.6">10<tspan font-size="11.6" dy="-5.0" dx="-0.2">0</tspan></text>
<text x="177.9" y="883.8" font-size="17.6">10<tspan font-size="11.6" dy="-5.0" dx="-0.2">1</tspan></text>
<text x="282.9" y="883.8" font-size="17.6">10<tspan font-size="11.6" dy="-5.0" dx="-0.2">2</tspan></text>
<text x="387.9" y="883.8" font-size="17.6">10<tspan font-size="11.6" dy="-5.0" dx="-0.2">3</tspan></text>
<text x="492.3" y="883.8" font-size="17.6">10<tspan font-size="11.6" dy="-5.0" dx="-0.2">4</tspan></text>
<text x="97.8" y="644.4" font-size="30.5" font-weight="bold" stroke="none">C</text>
<path d="M307.7 670.1 H347.1" stroke="#141414" stroke-width="1.5" fill="none"/>
<path d="M307.7 685.8 H347.1" stroke="#141414" stroke-width="1.7" stroke-dasharray="1.6 2.35" fill="none"/>
<path d="M307.7 700.8 H347.1" stroke="#141414" stroke-width="1.7" stroke-dasharray="5.8 3" fill="none"/>
<path d="M307.7 716.2 H347.1" stroke="#141414" stroke-width="2.7" fill="none"/>
<text x="356.4" y="675.0" font-size="14.15">Mock (untreated)</text>
<text x="356.4" y="690.2" font-size="14.15">Rituximab</text>
<text x="356.4" y="705.5" font-size="14.15">G3139</text>
<text x="356.4" y="720.8" font-size="14.15">G3139 + Rituximab</text>
<path d="M91.0 786.0 L91.4 784.9 L91.6 783.4 L92.1 781.9 L92.4 779.6 L93.1 777.8 L93.2 776.8 L93.6 774.8 L94.8 772.6 L96.2 770.8 L97.5 773.1 L98.7 773.7 L100.0 772.3 L101.1 770.4 L102.1 768.0 L103.1 767.4 L104.1 764.7 L104.9 763.5 L105.6 762.7 L105.8 760.6 L106.7 759.0 L107.1 757.3 L107.6 755.5 L107.8 753.5 L108.2 752.1 L108.2 750.5 L108.6 749.0 L108.7 747.3 L109.3 745.7 L109.6 743.0 L109.6 741.3 L109.9 739.9 L110.6 738.3 L110.9 736.9 L111.4 734.8 L111.7 733.7 L112.2 732.3 L112.3 729.9 L114.4 729.6 L116.0 728.5 L117.0 730.9 L117.8 731.4 L118.6 733.1 L119.3 732.6 L119.9 730.8 L120.3 728.8 L121.1 727.3 L121.3 726.0 L121.7 723.6 L122.2 722.9 L122.7 721.2 L123.0 718.8 L123.5 717.0 L123.7 715.6 L124.8 718.0 L126.2 718.4 L126.5 720.6 L126.7 722.0 L127.0 724.5 L127.2 726.3 L127.6 727.8 L127.9 729.1 L128.6 730.3 L128.9 732.4 L129.2 733.8 L129.8 735.2 L130.4 737.8 L131.1 738.8 L131.5 741.1 L132.0 741.5 L132.7 743.7 L134.3 744.7 L135.9 746.2 L136.6 747.7 L137.1 749.9 L137.9 750.7 L138.4 752.0 L138.9 754.5 L139.5 755.8 L140.1 758.0 L140.3 759.5 L140.8 760.7 L141.7 763.2 L142.0 763.8 L142.3 766.1 L144.4 765.8 L145.9 766.2 L146.1 768.1 L146.3 769.6 L146.6 771.9 L146.8 773.4 L147.1 774.6 L147.2 776.8 L147.2 777.9 L147.6 780.1 L148.3 781.9 L149.3 782.5 L150.0 785.0 L150.9 786.3 L152.3 783.5 L153.1 785.0 L153.9 787.5 L154.3 788.0 L154.9 790.6 L155.9 791.2 L156.8 792.5 L157.8 794.4 L158.7 796.6 L160.2 797.3 L161.4 799.3 L162.6 801.2 L162.9 802.4 L163.5 804.6 L164.1 806.0 L164.4 807.9 L165.2 809.0 L165.4 810.9 L165.9 812.7 L168.6 814.1 L169.9 812.3 L171.2 809.8 L171.9 810.9 L173.0 811.9 L174.1 814.1 L175.1 814.9 L175.5 816.3 L176.4 819.0 L177.0 820.8 L177.5 822.9 L179.4 822.4 L181.0 820.8 L181.9 823.1 L183.2 823.8 L184.0 825.9 L185.2 827.7 L185.7 828.5 L186.5 829.9 L187.4 832.0 L188.0 833.7 L188.8 834.9 L190.6 835.0 L192.2 836.1 L193.8 835.5 L195.0 837.6 L196.4 839.1 L197.6 840.1 L198.9 841.2 L200.5 841.5 L202.1 843.3 L203.6 843.7 L205.1 845.1 L206.1 845.7 L207.3 846.6 L208.9 848.2 L209.9 849.4 L211.3 850.2 L212.9 851.4 L214.6 851.2 L215.9 852.3 L217.5 853.1 L219.5 854.3 L221.4 854.0 L223.0 854.5 L224.9 855.7 L226.8 855.5 L228.7 855.5 L230.5 855.7 L232.2 856.8 L234.0 855.9 L235.7 856.1 L237.3 856.9 L239.3 857.2 L240.8 857.2 L242.5 857.2 L244.3 856.8 L246.0 858.0 L247.4 858.0 L249.0 858.1 L250.7 857.4 L252.5 857.5" stroke="#141414" stroke-width="1.4" fill="none" stroke-linejoin="round"/>
<path d="M91.0 810.0 L91.4 807.8 L91.7 805.8 L92.0 803.3 L92.3 801.2 L92.8 798.9 L93.1 796.9 L93.4 794.5 L93.7 792.3 L94.7 790.7 L95.7 789.0 L96.6 787.1 L97.5 785.1 L98.6 783.1 L99.9 781.4 L101.0 780.1 L101.8 777.9 L102.6 775.8 L103.4 774.3 L104.1 771.7 L105.1 769.9 L105.3 768.1 L105.6 765.6 L106.0 763.5 L106.3 761.6 L106.6 759.8 L106.9 757.5 L107.1 755.2 L107.5 753.4 L107.8 751.1 L108.2 748.9 L108.5 747.2 L108.7 745.3 L108.9 743.1 L109.2 741.1 L109.3 738.6 L109.6 736.6 L109.7 734.7 L110.0 732.9 L110.1 730.7 L110.4 728.9 L110.6 726.3 L110.9 724.6 L111.0 722.5 L111.2 720.3 L111.5 718.7 L111.8 716.3 L112.0 714.3 L112.4 712.5 L112.7 710.6 L112.8 708.5 L113.1 706.6 L113.5 704.5 L113.8 702.6 L114.2 700.2 L114.7 698.3 L115.2 695.9 L115.5 694.0 L116.2 691.6 L116.5 689.5 L117.1 687.7 L118.5 690.1 L119.9 692.2 L121.6 694.5 L122.9 695.7 L126.1 697.3 L128.0 698.0 L130.0 699.0 L131.8 700.1 L133.7 700.8 L134.0 703.2 L134.4 705.3 L134.8 706.8 L135.0 708.8 L135.4 710.8 L135.8 713.2 L136.1 714.7 L136.5 717.2 L136.8 719.3 L137.2 721.5 L137.5 723.3 L137.9 725.7 L138.3 727.8 L138.7 730.1 L139.0 732.2 L139.1 734.0 L139.4 736.1 L139.6 738.0 L139.9 740.3 L140.0 741.9 L140.4 744.1 L140.5 746.2 L140.7 747.9 L140.9 750.2 L142.5 751.9 L143.7 753.9 L146.9 754.7 L147.2 757.1 L147.3 759.0 L147.5 760.9 L147.8 763.1 L147.9 765.1 L148.1 767.2 L148.1 769.1 L148.5 771.1 L148.6 773.0 L148.8 774.8 L149.5 777.2 L150.2 779.3 L151.0 781.5 L151.7 783.6 L152.5 786.3 L153.7 788.4 L154.9 790.5 L156.0 792.7 L157.3 794.0 L158.6 795.5 L160.1 797.7 L161.0 799.4 L162.1 801.7 L163.0 803.7 L164.1 805.3 L165.0 807.4 L166.3 809.3 L167.4 811.5 L168.8 813.1 L170.1 815.0 L171.7 816.9 L173.4 819.1 L174.9 820.8 L176.3 822.5 L177.5 824.0 L178.8 826.0 L180.0 827.3 L181.3 829.2 L182.5 830.8 L183.7 832.0 L185.0 833.5 L186.6 835.2 L188.4 837.4 L190.0 838.8 L192.0 840.1 L193.9 841.1 L195.9 842.2 L198.1 843.3 L200.3 843.9 L202.5 845.3 L205.0 845.6 L207.4 846.3 L209.4 847.3 L211.2 848.4 L213.1 849.3 L215.0 850.3 L216.9 850.8 L219.0 851.4 L221.1 852.0 L223.0 852.5 L224.9 852.7 L227.0 853.7 L229.2 854.1 L231.2 854.6 L233.3 854.8 L235.4 855.8 L237.5 856.1 L239.6 856.0 L241.9 856.1 L244.1 856.3 L246.3 856.7 L248.5 856.7 L250.6 857.0 L252.7 857.3 L255.0 857.5" stroke="#141414" stroke-width="1.7" stroke-dasharray="1.6 3.7" fill="none"/>
<path d="M89.0 760.0 L90.6 758.2 L92.1 756.5 L93.7 755.2 L94.9 753.1 L96.2 751.6 L97.5 750.1 L97.8 748.1 L98.3 745.8 L98.5 743.4 L98.9 741.4 L99.3 739.3 L99.6 736.9 L99.9 735.0 L100.3 732.7 L100.5 730.4 L100.9 728.4 L101.3 726.5 L101.5 723.8 L101.9 722.0 L102.3 719.9 L102.4 717.7 L102.8 715.6 L103.1 713.0 L103.4 711.2 L103.7 708.5 L104.1 706.8 L104.3 704.5 L104.7 702.2 L105.0 699.8 L105.6 697.8 L106.2 696.1 L106.8 693.6 L107.5 691.8 L108.1 689.3 L108.8 687.6 L109.4 685.3 L110.0 683.4 L110.7 681.0 L111.3 679.4 L111.9 677.3 L112.4 675.2 L113.7 672.8 L114.8 671.1 L115.9 668.6 L117.9 669.1 L120.0 669.3 L121.1 671.4 L122.0 673.1 L123.1 674.7 L123.4 677.0 L123.8 679.3 L124.2 681.4 L124.4 683.6 L124.7 685.9 L125.1 688.2 L125.6 689.8 L125.8 692.1 L126.2 694.3 L126.4 696.3 L126.8 698.5 L127.1 700.6 L127.4 703.0 L127.7 705.3 L128.0 707.3 L128.4 709.4 L128.6 711.6 L129.1 713.9 L129.3 716.3 L129.7 718.1 L130.1 720.4 L130.6 722.4 L131.0 724.7 L131.4 727.1 L131.9 729.2 L132.4 730.8 L132.7 733.0 L133.2 735.2 L133.8 737.8 L134.3 739.5 L134.9 741.9 L135.4 743.8 L135.9 745.6 L136.5 748.0 L137.1 750.2 L137.4 752.4 L138.1 753.9 L138.4 756.3 L139.0 758.4 L139.5 760.3 L140.0 762.5 L140.7 764.3 L141.2 766.7 L141.9 768.9 L142.5 770.5 L143.2 773.0 L143.7 775.1 L144.5 777.3 L145.0 778.8 L145.6 781.3 L146.4 782.9 L147.0 785.2 L147.5 787.2 L148.0 789.3 L148.5 791.0 L149.0 793.2 L149.4 795.1 L150.0 797.4 L150.6 799.3 L151.3 801.9 L151.9 803.7 L152.4 805.8 L153.0 807.9 L153.7 810.1 L154.8 811.8 L155.7 813.9 L156.6 815.7 L157.6 817.6 L158.8 819.2 L160.0 821.1 L161.3 823.3 L162.6 825.2 L163.7 826.9 L165.0 828.5 L166.2 830.8 L167.4 832.2 L168.8 833.9 L170.0 835.3 L171.3 837.0 L172.4 839.0 L174.2 840.2 L175.8 842.4 L177.5 843.7 L179.6 844.9 L181.6 846.2 L183.7 847.2 L185.8 848.1 L188.0 849.2 L190.1 849.9 L191.8 850.9 L193.7 851.5 L195.6 852.5 L197.4 852.7 L200.0 853.7 L202.5 854.3 L205.1 855.0 L207.0 854.8 L209.0 855.1 L211.1 855.7 L212.9 855.6 L215.0 856.1 L217.0 856.0 L219.1 856.5 L221.2 856.8 L223.3 856.9 L225.5 857.3 L227.5 857.5" stroke="#141414" stroke-width="1.45" stroke-dasharray="6 3" fill="none"/>
<path d="M88.0 852.5 L89.9 851.9 L91.4 852.6 L93.4 853.7 L95.2 854.0 L96.6 853.6 L98.2 854.9 L99.8 854.3 L101.9 855.8 L103.6 856.1 L104.9 856.6 L106.6 855.1 L108.1 854.0 L109.2 853.5 L110.8 853.8 L112.8 853.9 L114.1 852.3 L115.9 851.0 L117.4 851.0 L118.8 850.2 L119.8 849.0 L121.2 846.4 L122.4 846.0 L123.2 844.8 L124.2 842.7 L125.3 841.9 L126.0 839.8 L126.8 839.4 L126.9 837.4 L127.8 835.6 L128.0 833.9 L129.1 833.8 L129.4 830.7 L129.9 830.2 L130.7 827.8 L131.0 827.7 L131.5 824.9 L132.4 823.5 L132.6 822.0 L133.0 821.9 L133.5 819.3 L134.3 817.9 L134.6 817.8 L135.5 815.1 L135.8 814.1 L136.3 812.1 L136.7 812.3 L137.6 809.5 L138.2 809.2 L138.6 806.8 L138.7 805.5 L139.4 803.7 L139.5 802.6 L140.4 800.0 L140.7 798.3 L140.9 797.2 L141.7 795.5 L142.2 795.4 L143.0 793.7 L143.9 790.9 L144.3 789.7 L145.2 788.3 L145.5 787.7 L146.2 784.6 L146.7 784.2 L146.9 783.4 L147.4 781.7 L147.3 779.1 L147.4 777.8 L147.5 776.3 L148.1 774.5 L148.1 773.3 L148.4 772.7 L148.6 770.0 L148.9 769.6 L148.9 767.9 L148.9 766.5 L149.2 764.7 L149.4 763.5 L149.8 761.3 L150.1 760.3 L150.6 758.8 L150.5 757.3 L151.1 755.8 L152.1 753.8 L153.2 751.0 L154.0 750.4 L155.2 748.4 L156.1 747.7 L156.8 745.1 L157.6 743.6 L158.5 742.2 L159.0 741.4 L159.3 738.4 L159.7 738.0 L160.2 735.8 L160.9 734.7 L161.1 732.1 L162.3 732.4 L163.8 731.6 L165.2 729.6 L165.0 728.6 L165.7 727.2 L165.7 725.5 L166.2 723.8 L166.1 722.8 L166.4 720.7 L166.9 720.4 L167.2 717.3 L167.3 715.6 L167.6 714.9 L168.8 714.2 L170.7 713.8 L172.0 715.4 L173.9 715.5 L174.0 718.1 L174.8 719.7 L174.8 720.4 L175.5 722.4 L175.5 722.9 L176.1 724.7 L176.5 725.9 L177.0 727.9 L177.6 728.7 L177.9 731.8 L178.1 732.9 L178.8 734.5 L180.2 735.5 L181.5 736.0 L182.2 736.9 L183.2 739.0 L183.8 741.3 L184.2 742.0 L184.3 743.6 L185.2 745.2 L185.6 746.4 L185.9 747.5 L186.5 749.3 L186.8 750.9 L187.4 751.6 L188.0 754.5 L188.0 755.1 L188.3 757.2 L189.0 758.9 L189.1 759.7 L189.5 762.3 L189.8 763.8 L190.2 764.6 L190.5 767.3 L191.5 768.8 L192.0 768.7 L193.1 771.6 L193.7 771.8 L194.5 774.3 L194.8 775.2 L194.9 776.5 L195.5 777.9 L195.9 780.2 L196.8 780.6 L197.8 781.7 L199.0 783.4 L200.0 784.4 L200.6 786.4 L200.9 788.1 L200.8 789.6 L201.0 791.4 L201.3 792.2 L202.1 794.8 L202.1 795.8 L202.4 797.4 L202.9 799.3 L203.7 799.7 L203.7 801.9 L204.6 803.9 L205.1 804.4 L205.4 806.9 L205.9 807.4 L207.4 808.8 L208.9 810.3 L209.9 810.3 L210.9 813.0 L211.6 813.8 L212.5 814.6 L212.9 816.3 L213.5 816.9 L214.9 819.8 L215.5 819.7 L216.6 822.1 L217.7 823.5 L218.4 824.7 L219.3 827.1 L220.0 827.5 L221.1 828.5 L223.6 829.3 L224.4 826.8 L225.5 825.2 L225.9 823.8 L227.2 824.7 L228.1 825.6 L228.8 826.6 L230.2 827.9 L231.7 827.5 L233.6 826.7 L235.1 828.8 L236.5 829.9 L237.7 830.1 L238.6 830.5 L239.1 832.4 L240.3 834.2 L240.8 834.8 L242.1 837.6 L243.3 838.9 L243.4 836.2 L244.1 834.7 L245.1 834.1 L246.5 833.0 L248.4 833.1 L250.3 834.1 L252.1 834.6 L253.7 835.9 L255.3 836.4 L257.4 838.7 L258.6 839.1 L260.1 837.8 L262.0 837.8 L263.5 837.0 L264.7 837.8 L266.4 838.3 L267.5 839.4 L268.8 840.8 L269.9 840.7 L271.9 842.8 L273.4 843.6 L274.8 843.1 L276.8 844.3 L278.5 844.3 L280.0 846.5 L281.7 845.4 L283.1 846.4 L284.6 847.0 L286.3 847.0 L287.7 848.4 L289.0 848.3 L290.5 848.5 L292.4 850.1 L293.9 850.5 L295.4 851.2 L297.0 850.2 L298.5 850.3 L300.2 850.4 L301.4 850.7 L302.8 851.3 L304.6 851.1 L306.1 849.3 L307.6 851.0 L308.6 851.8 L309.8 853.3 L311.3 853.3 L312.8 852.6 L314.5 854.0 L315.9 853.9 L317.6 854.2 L319.0 853.4 L320.3 855.1 L321.9 855.4 L323.7 855.3 L325.3 856.8 L326.7 856.2 L328.5 857.3 L330.2 856.9 L331.8 856.9 L332.8 857.1 L334.3 857.8 L335.7 857.7 L337.5 858.3 L338.8 858.1 L340.4 858.0 L342.2 857.3 L343.5 857.0 L345.0 858.0" stroke="#141414" stroke-width="2.5" fill="none" stroke-linejoin="round" stroke-linecap="round"/>
<rect x="85.9" y="611.5" width="2.7" height="39.3" stroke="none"/>
<rect x="85.9" y="650.8" width="4.4" height="101.2" stroke="none"/>
<rect x="85.9" y="752.0" width="6.1" height="107.5" stroke="none"/>
</g>
<g>
<rect x="87.4" y="911.2" width="421.6" height="248.0" fill="none" stroke="#141414" stroke-width="1.35"/>
<path d="M90.4 1159.0 H509.0" stroke="#141414" stroke-width="1.9" fill="none"/>
<text x="72" y="1165.5" font-size="18" text-anchor="end">0</text>
<text x="72" y="1115.9" font-size="18" text-anchor="end">120</text>
<text x="72" y="1066.3" font-size="18" text-anchor="end">240</text>
<text x="72" y="1016.7" font-size="18" text-anchor="end">360</text>
<text x="72" y="967.1" font-size="18" text-anchor="end">480</text>
<text x="72" y="917.5" font-size="18" text-anchor="end">600</text>
<path d="M81.0 1159.2 H87.4 M83.7 1149.2 H87.4 M83.7 1138.8 H87.4 M83.7 1128.4 H87.4 M83.7 1118.7 H87.4 M81.0 1109.6 H87.4 M83.7 1099.6 H87.4 M83.7 1089.2 H87.4 M83.7 1078.8 H87.4 M83.7 1069.1 H87.4 M81.0 1060.0 H87.4 M83.7 1050.0 H87.4 M83.7 1039.6 H87.4 M83.7 1029.2 H87.4 M83.7 1019.5 H87.4 M81.0 1010.4 H87.4 M83.7 1000.4 H87.4 M83.7 990.0 H87.4 M83.7 979.6 H87.4 M83.7 969.9 H87.4 M81.0 960.8 H87.4 M83.7 950.8 H87.4 M83.7 940.4 H87.4 M83.7 930.0 H87.4 M83.7 920.3 H87.4 M81.0 911.2 H87.4 M87.5 1159.2 V1165.6 M119.0 1159.2 V1162.5 M137.4 1159.2 V1162.5 M150.5 1159.2 V1162.5 M160.7 1159.2 V1162.5 M168.9 1159.2 V1162.5 M175.9 1159.2 V1162.5 M182.0 1159.2 V1162.5 M187.4 1159.2 V1162.5 M192.2 1159.2 V1165.6 M223.7 1159.2 V1162.5 M242.1 1159.2 V1162.5 M255.2 1159.2 V1162.5 M265.3 1159.2 V1162.5 M273.6 1159.2 V1162.5 M280.6 1159.2 V1162.5 M286.7 1159.2 V1162.5 M292.0 1159.2 V1162.5 M296.8 1159.2 V1165.6 M328.3 1159.2 V1162.5 M346.8 1159.2 V1162.5 M359.8 1159.2 V1162.5 M370.0 1159.2 V1162.5 M378.3 1159.2 V1162.5 M385.3 1159.2 V1162.5 M391.3 1159.2 V1162.5 M396.7 1159.2 V1162.5 M401.5 1159.2 V1165.6 M433.0 1159.2 V1162.5 M451.4 1159.2 V1162.5 M464.5 1159.2 V1162.5 M474.6 1159.2 V1162.5 M482.9 1159.2 V1162.5 M489.9 1159.2 V1162.5 M496.0 1159.2 V1162.5 M501.4 1159.2 V1162.5 M506.1 1159.2 V1165.6" stroke="#141414" stroke-width="1.3" fill="none"/>
<text x="74.5" y="1183.7" font-size="17.6">10<tspan font-size="11.6" dy="-5.0" dx="-0.2">0</tspan></text>
<text x="177.1" y="1183.7" font-size="17.6">10<tspan font-size="11.6" dy="-5.0" dx="-0.2">1</tspan></text>
<text x="284.1" y="1183.7" font-size="17.6">10<tspan font-size="11.6" dy="-5.0" dx="-0.2">2</tspan></text>
<text x="388.5" y="1183.7" font-size="17.6">10<tspan font-size="11.6" dy="-5.0" dx="-0.2">3</tspan></text>
<text x="491.6" y="1183.7" font-size="17.6">10<tspan font-size="11.6" dy="-5.0" dx="-0.2">4</tspan></text>
<text x="99.2" y="943.8" font-size="30.5" font-weight="bold" stroke="none">D</text>
<path d="M307.7 969.6 H347.1" stroke="#141414" stroke-width="1.5" fill="none"/>
<path d="M307.7 985.3 H347.1" stroke="#141414" stroke-width="1.7" stroke-dasharray="1.6 2.35" fill="none"/>
<path d="M307.7 1000.3 H347.1" stroke="#141414" stroke-width="1.7" stroke-dasharray="5.8 3" fill="none"/>
<path d="M307.7 1015.7 H347.1" stroke="#141414" stroke-width="2.7" fill="none"/>
<text x="356.4" y="974.5" font-size="14.15">Reverse ODN</text>
<text x="356.4" y="989.7" font-size="14.15">Reverse + Rituximab</text>
<text x="356.4" y="1005.0" font-size="14.15">G3139</text>
<text x="356.4" y="1020.2" font-size="14.15">G3139 + Rituximab</text>
<path d="M90.5 1023.8 L91.1 1024.9 L91.2 1027.8 L91.9 1029.0 L92.5 1031.1 L93.0 1032.3 L93.1 1033.8 L93.6 1036.4 L95.4 1035.1 L96.9 1034.8 L97.6 1037.4 L98.1 1038.9 L98.7 1040.8 L99.4 1042.6 L100.1 1044.4 L101.5 1045.1 L103.0 1046.5 L105.2 1043.2 L105.4 1045.8 L105.6 1047.3 L106.2 1048.5 L106.6 1050.8 L106.9 1051.3 L107.1 1053.5 L107.3 1054.5 L108.4 1053.4 L109.2 1051.5 L110.2 1050.4 L110.9 1048.9 L111.3 1047.7 L112.0 1046.2 L112.2 1043.4 L112.5 1043.0 L112.9 1040.8 L113.2 1038.4 L113.7 1037.0 L114.1 1035.9 L114.5 1034.6 L114.9 1032.0 L115.1 1030.5 L115.4 1029.1 L115.7 1026.6 L116.2 1024.7 L118.9 1025.6 L119.2 1027.2 L119.9 1029.7 L120.5 1031.4 L121.4 1033.7 L122.2 1035.3 L122.9 1034.0 L123.5 1032.0 L124.5 1029.4 L124.6 1028.9 L124.6 1026.6 L125.1 1024.6 L125.3 1023.1 L125.2 1020.6 L125.6 1019.1 L125.8 1017.2 L125.9 1015.7 L125.9 1017.7 L126.2 1019.9 L126.3 1021.2 L127.0 1023.0 L127.1 1023.7 L127.1 1025.5 L127.6 1027.3 L128.2 1029.8 L128.6 1031.6 L128.9 1032.8 L129.5 1034.6 L130.2 1035.8 L131.7 1037.0 L133.6 1038.3 L135.1 1040.1 L136.3 1040.8 L137.5 1042.6 L138.1 1044.0 L138.5 1045.2 L139.1 1047.4 L139.7 1049.5 L140.3 1051.3 L141.0 1051.9 L141.4 1053.9 L141.9 1056.0 L142.6 1057.4 L143.0 1058.7 L143.5 1060.9 L143.8 1061.4 L144.4 1062.9 L145.1 1064.4 L145.3 1066.6 L146.0 1068.4 L146.1 1069.6 L146.6 1071.4 L147.2 1073.9 L147.4 1074.9 L147.7 1076.1 L148.3 1079.1 L148.6 1079.9 L148.9 1081.5 L149.1 1083.7 L149.7 1086.1 L149.9 1087.5 L150.6 1089.4 L151.1 1091.1 L151.7 1093.1 L152.5 1093.8 L153.0 1095.4 L154.0 1097.8 L154.4 1098.8 L155.1 1100.7 L156.1 1101.9 L156.6 1103.4 L157.5 1104.4 L158.1 1107.4 L158.3 1107.8 L158.6 1110.0 L159.2 1111.9 L159.5 1113.8 L160.1 1115.6 L160.5 1116.6 L161.1 1118.3 L162.0 1120.3 L162.7 1121.8 L163.2 1122.7 L163.6 1125.4 L164.3 1126.3 L165.3 1128.1 L166.1 1129.3 L166.8 1130.8 L167.7 1132.2 L168.2 1134.0 L169.3 1135.1 L170.2 1137.7 L171.2 1138.3 L171.6 1140.5 L172.7 1141.5 L173.2 1142.4 L174.4 1144.3 L174.9 1146.7 L176.8 1147.5 L178.4 1148.3 L180.1 1149.4 L181.7 1150.6 L183.3 1150.8 L184.9 1152.5 L186.5 1152.9 L187.9 1153.9 L189.5 1154.1 L191.0 1155.0 L192.7 1155.6 L194.5 1155.8 L196.5 1156.6 L198.2 1157.0 L200.2 1156.6 L201.6 1157.1 L203.3 1156.9 L205.1 1157.5 L206.8 1157.3 L208.3 1157.0 L209.9 1157.3 L211.8 1157.3 L213.2 1157.9 L215.1 1157.2 L216.7 1157.8 L218.4 1157.9 L219.8 1157.4 L221.5 1157.5 L223.3 1158.0 L225.0 1157.8" stroke="#141414" stroke-width="1.4" fill="none" stroke-linejoin="round"/>
<path d="M91.0 1070.0 L91.7 1068.0 L92.1 1065.9 L92.6 1063.5 L93.3 1061.6 L93.8 1059.3 L94.4 1057.0 L95.1 1055.1 L95.5 1053.0 L95.9 1050.6 L96.5 1048.3 L96.8 1046.1 L97.4 1043.9 L97.8 1042.1 L98.4 1039.9 L98.7 1037.5 L99.5 1035.7 L100.3 1033.3 L101.0 1031.5 L101.7 1029.6 L102.5 1027.2 L102.8 1025.3 L103.4 1023.3 L103.8 1021.1 L104.1 1019.2 L104.6 1016.8 L105.0 1015.1 L105.5 1012.7 L105.8 1011.1 L106.3 1008.8 L106.6 1006.6 L107.1 1004.5 L107.5 1002.6 L108.3 1000.1 L109.2 998.1 L110.1 995.9 L110.9 993.8 L111.7 991.8 L112.5 989.8 L112.9 987.9 L113.6 986.2 L114.0 983.9 L114.6 982.0 L115.0 979.7 L115.4 977.8 L115.9 976.2 L116.2 974.0 L116.5 972.2 L117.0 969.9 L117.7 972.2 L118.2 974.1 L118.8 976.4 L119.4 978.5 L122.5 980.9 L126.0 982.5 L128.8 983.9 L129.0 986.1 L129.3 987.8 L129.7 989.8 L129.9 991.7 L130.1 993.8 L130.4 996.0 L130.6 997.8 L131.0 1000.3 L131.4 1002.0 L131.7 1004.4 L132.1 1006.5 L132.4 1008.7 L132.7 1011.2 L133.0 1013.1 L133.4 1015.4 L133.7 1017.5 L134.1 1019.5 L134.4 1021.8 L134.6 1024.0 L134.8 1026.0 L135.2 1028.7 L135.4 1030.7 L135.7 1032.8 L136.0 1034.8 L136.5 1037.1 L137.0 1039.1 L137.6 1041.1 L138.2 1043.0 L138.7 1045.0 L139.5 1047.0 L140.2 1048.8 L141.0 1051.1 L141.8 1053.1 L142.4 1055.0 L143.1 1057.0 L143.5 1059.2 L144.0 1061.2 L144.6 1063.6 L144.9 1065.5 L145.4 1067.6 L146.0 1069.9 L146.4 1071.9 L146.8 1074.1 L147.4 1076.3 L147.9 1077.9 L148.3 1080.3 L148.8 1082.6 L149.2 1084.9 L149.8 1087.0 L150.3 1088.6 L150.8 1090.8 L151.4 1093.3 L151.9 1095.2 L152.6 1097.4 L153.3 1099.7 L153.9 1101.8 L154.6 1103.7 L155.4 1105.8 L156.0 1107.6 L157.1 1109.4 L158.0 1111.8 L158.9 1114.1 L160.0 1116.1 L161.0 1118.0 L162.1 1119.4 L163.0 1121.3 L164.0 1123.4 L165.0 1125.1 L165.9 1126.8 L167.0 1129.3 L168.0 1131.0 L169.0 1132.7 L170.1 1135.1 L171.6 1136.9 L173.4 1138.9 L175.0 1141.1 L176.6 1142.3 L178.3 1143.9 L180.1 1145.0 L182.0 1145.7 L184.1 1146.6 L186.0 1147.3 L188.2 1148.4 L190.3 1149.1 L192.5 1149.8 L195.1 1150.4 L197.6 1151.2 L200.0 1152.0 L201.9 1152.6 L204.0 1153.2 L206.1 1153.7 L208.1 1154.1 L210.0 1154.5 L211.9 1155.3 L214.0 1155.3 L215.9 1156.0 L218.1 1156.3 L220.0 1157.0" stroke="#141414" stroke-width="1.7" stroke-dasharray="1.6 3.7" fill="none"/>
<path d="M90.5 1025.0 L90.6 1026.9 L90.8 1028.8 L90.9 1030.8 L91.0 1033.0 L91.2 1035.0 L91.4 1036.7 L91.4 1038.8 L91.6 1041.2 L91.6 1043.0 L91.8 1045.2 L91.9 1047.1 L92.1 1049.0 L92.2 1050.9 L92.4 1052.7 L92.4 1055.1 L92.7 1053.0 L93.0 1050.8 L93.0 1049.2 L93.2 1046.8 L93.4 1044.9 L93.7 1043.0 L93.9 1040.9 L94.2 1038.9 L94.2 1037.1 L94.4 1034.8 L94.9 1032.8 L95.6 1031.0 L95.9 1029.0 L96.5 1026.4 L97.1 1024.5 L97.5 1022.4 L99.3 1021.0 L101.0 1020.0 L102.4 1022.5 L103.7 1025.2 L103.9 1022.7 L104.2 1021.1 L104.4 1018.8 L104.6 1016.6 L104.8 1014.4 L104.9 1012.7 L105.9 1009.9 L106.6 1007.8 L107.5 1005.1 L109.2 1004.0 L111.0 1002.3 L112.0 1000.1 L112.9 997.3 L113.8 995.1 L115.6 992.7 L117.5 990.9 L118.3 993.1 L119.1 995.4 L120.0 997.7 L120.7 999.7 L121.3 1001.5 L122.0 1003.6 L122.5 1005.7 L123.3 1008.1 L124.2 1010.3 L124.9 1012.4 L125.5 1014.5 L126.0 1016.8 L126.5 1018.5 L127.0 1020.8 L127.6 1022.6 L128.0 1024.4 L128.4 1026.4 L129.0 1028.2 L129.4 1030.7 L130.0 1032.5 L130.5 1034.7 L131.1 1037.3 L131.8 1039.9 L132.3 1041.8 L132.7 1043.9 L133.3 1046.0 L133.7 1047.9 L134.0 1050.1 L134.2 1052.3 L134.6 1053.9 L134.7 1055.7 L135.0 1057.8 L135.1 1059.7 L135.8 1061.8 L136.5 1063.8 L137.2 1066.0 L138.0 1068.2 L138.7 1069.8 L139.3 1072.0 L140.0 1073.8 L140.8 1075.9 L141.6 1077.6 L142.0 1079.3 L142.6 1081.6 L143.1 1083.6 L143.6 1085.5 L144.2 1087.5 L145.2 1089.4 L146.4 1091.1 L147.5 1092.9 L148.5 1095.0 L149.5 1096.6 L150.5 1098.8 L151.5 1100.5 L152.5 1102.7 L153.4 1104.7 L154.3 1106.5 L155.2 1108.0 L155.9 1110.1 L157.0 1112.2 L158.0 1113.9 L159.1 1115.4 L160.0 1117.3 L161.2 1119.4 L162.5 1121.2 L163.8 1122.9 L165.0 1124.8 L166.7 1127.1 L168.3 1128.7 L170.0 1131.3 L171.2 1132.6 L172.5 1134.4 L173.7 1136.0 L175.0 1137.5 L176.7 1138.5 L178.4 1140.1 L180.0 1141.3 L182.0 1142.1 L184.0 1143.0 L186.1 1144.0 L188.1 1144.7 L190.3 1145.4 L192.5 1145.9 L194.6 1147.5 L196.7 1148.9 L198.7 1149.8 L200.8 1150.9 L202.8 1151.6 L205.0 1152.3 L207.6 1153.1 L210.1 1153.9 L212.0 1154.5 L213.9 1155.1 L216.0 1155.8 L218.1 1156.1 L220.0 1157.0" stroke="#141414" stroke-width="1.45" stroke-dasharray="6 3" fill="none"/>
<path d="M88.0 1141.0 L89.2 1139.9 L90.7 1140.1 L92.0 1137.9 L93.9 1136.7 L95.3 1137.2 L96.8 1136.0 L98.4 1136.9 L99.7 1138.6 L100.7 1138.6 L101.6 1140.1 L102.2 1143.1 L102.8 1144.1 L103.3 1144.8 L103.8 1146.6 L104.5 1147.9 L105.2 1150.1 L106.0 1151.7 L107.1 1153.8 L107.7 1154.6 L108.7 1156.8 L110.5 1154.7 L112.7 1155.4 L113.8 1154.3 L115.2 1153.8 L116.2 1151.9 L117.4 1151.5 L119.1 1150.0 L120.5 1151.1 L122.4 1150.6 L123.5 1149.3 L125.2 1149.4 L127.2 1149.6 L128.6 1148.0 L129.8 1147.8 L131.3 1147.8 L133.0 1145.4 L134.5 1144.7 L136.3 1144.8 L137.8 1144.2 L139.3 1144.3 L140.8 1142.6 L142.4 1142.5 L144.3 1141.5 L146.1 1139.7 L147.1 1139.9 L148.2 1137.7 L149.5 1136.2 L151.2 1135.9 L152.5 1135.1 L153.5 1134.1 L154.5 1132.4 L155.9 1130.8 L156.8 1129.7 L157.9 1128.1 L158.9 1126.5 L160.1 1124.2 L161.0 1124.3 L161.9 1121.8 L163.1 1122.0 L163.5 1120.5 L164.6 1119.2 L165.5 1116.6 L166.2 1116.1 L166.8 1113.5 L167.4 1112.3 L168.2 1111.5 L168.7 1109.2 L169.3 1108.8 L169.9 1107.3 L170.2 1105.9 L170.8 1103.4 L171.3 1102.4 L171.2 1100.7 L171.5 1099.3 L172.0 1097.9 L171.9 1095.1 L172.0 1095.2 L172.2 1093.6 L172.9 1091.8 L172.9 1089.5 L173.4 1087.9 L173.7 1086.9 L174.0 1085.0 L174.4 1084.6 L174.4 1083.0 L174.8 1080.7 L175.4 1078.8 L175.5 1076.9 L176.1 1076.5 L176.0 1073.5 L176.7 1072.8 L176.9 1070.6 L177.1 1069.5 L177.1 1068.9 L177.5 1066.2 L177.9 1064.3 L178.6 1063.9 L179.4 1061.3 L179.6 1060.5 L180.6 1059.6 L181.3 1057.0 L181.3 1056.5 L182.1 1053.4 L182.1 1053.4 L182.9 1051.8 L183.4 1049.9 L183.5 1049.0 L184.3 1047.2 L184.6 1044.6 L185.1 1043.8 L185.1 1042.0 L185.6 1039.8 L186.2 1038.1 L186.2 1037.9 L186.8 1036.0 L187.3 1033.3 L187.4 1033.0 L187.9 1030.1 L188.5 1029.7 L188.8 1028.1 L189.4 1025.1 L189.8 1024.9 L190.6 1021.7 L191.7 1020.1 L192.5 1018.4 L194.0 1017.8 L196.0 1015.8 L196.8 1016.4 L197.9 1018.0 L198.8 1020.2 L199.6 1021.1 L200.2 1021.8 L200.9 1023.6 L201.6 1026.0 L202.4 1026.7 L203.5 1029.3 L204.2 1030.2 L205.4 1032.7 L206.0 1033.4 L206.2 1035.8 L206.5 1036.2 L207.2 1038.3 L207.4 1039.2 L207.8 1042.4 L208.4 1042.8 L208.5 1045.4 L209.0 1045.5 L209.5 1048.3 L209.5 1049.7 L209.9 1051.0 L210.3 1052.4 L210.9 1054.8 L211.0 1056.3 L211.2 1057.9 L211.8 1059.3 L212.0 1060.7 L212.1 1062.4 L212.9 1063.7 L213.3 1064.3 L213.6 1065.5 L213.7 1067.4 L214.4 1068.5 L214.5 1071.1 L215.0 1073.1 L215.6 1073.5 L216.3 1075.5 L216.6 1077.7 L216.8 1078.2 L217.5 1079.2 L218.0 1081.6 L218.5 1083.8 L219.0 1084.0 L219.8 1085.1 L220.0 1087.3 L220.4 1088.4 L221.0 1089.6 L222.2 1091.6 L222.7 1093.5 L223.6 1094.2 L224.1 1096.3 L224.0 1098.9 L224.3 1100.3 L224.5 1101.4 L224.4 1102.1 L224.9 1104.9 L225.3 1105.9 L225.1 1108.3 L225.4 1108.5 L225.4 1111.2 L225.7 1111.6 L226.5 1113.1 L226.8 1115.7 L227.4 1116.9 L228.0 1117.9 L228.7 1120.6 L229.3 1121.9 L230.1 1123.5 L230.6 1124.7 L231.1 1126.0 L232.0 1128.2 L232.6 1128.8 L233.1 1129.4 L234.1 1131.1 L234.6 1132.2 L235.5 1135.3 L235.9 1136.4 L236.9 1136.8 L237.7 1138.2 L238.5 1139.6 L239.4 1141.3 L239.9 1143.4 L240.7 1144.7 L241.6 1145.7 L242.7 1146.3 L243.6 1148.0 L244.8 1148.2 L245.8 1150.1 L246.3 1151.2 L247.3 1153.0 L248.9 1152.7 L250.9 1152.6 L252.6 1153.8 L254.2 1153.6 L255.5 1154.5 L257.2 1154.6 L258.6 1155.4 L260.5 1155.1 L262.3 1155.1 L264.2 1156.8 L266.1 1156.2 L267.9 1156.4 L269.3 1156.7 L271.3 1157.2 L273.2 1157.6 L274.4 1158.0 L276.1 1158.0 L277.4 1158.0 L279.3 1158.0 L280.4 1157.2 L281.8 1157.8 L283.7 1158.0 L285.2 1157.2 L286.2 1157.8 L287.9 1158.0 L289.3 1157.6 L290.8 1157.9 L292.4 1157.6 L294.0 1158.0 L295.5 1157.9 L297.1 1158.0 L298.7 1158.0 L300.0 1158.0" stroke="#141414" stroke-width="2.5" fill="none" stroke-linejoin="round" stroke-linecap="round"/>
<rect x="86.7" y="911.3" width="4.3" height="112.7" stroke="none"/>
<rect x="86.7" y="1024.0" width="5.3" height="51.0" stroke="none"/>
<rect x="86.7" y="1075.0" width="5.2" height="84.0" stroke="none"/>
</g>
<text transform="translate(26.3 586.8) rotate(-90)" font-size="24.8" text-anchor="middle">Counts</text>
<text x="295.2" y="1217" font-size="24.3" text-anchor="middle">FL1-H</text>
</svg>
</body></html>
